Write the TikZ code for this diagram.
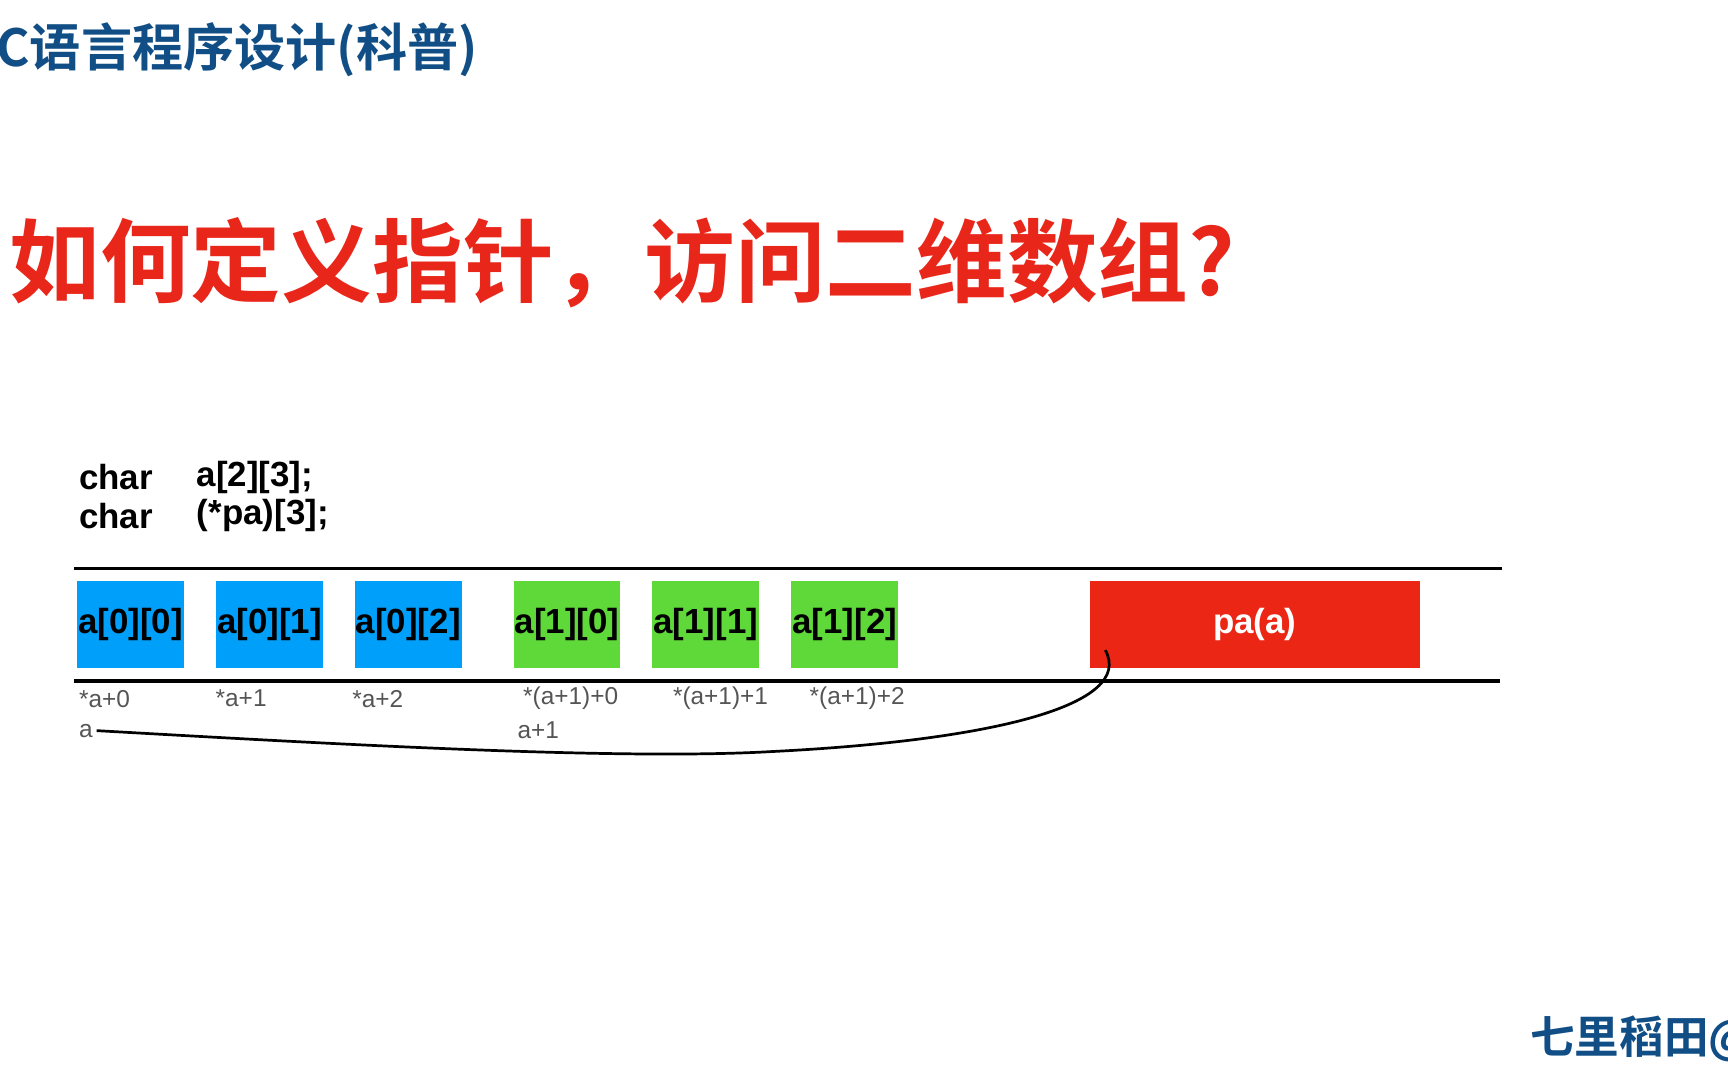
\documentclass[tikz,border=0pt]{standalone}
\usepackage{fontspec}
\setmainfont{Liberation Sans}
\newfontfamily\cjk{Noto Sans CJK SC}[BoldFont={Noto Sans CJK SC Bold}]
\definecolor{tblue}{HTML}{104E85}
\definecolor{tred}{HTML}{E8261A}
\definecolor{cblue}{HTML}{00A0FA}
\definecolor{cgreen}{HTML}{5FD83A}
\definecolor{cred}{HTML}{EB2614}
\definecolor{lgray}{HTML}{555555}
\begin{document}
\begin{tikzpicture}[x=0.01cm,y=-0.01cm,
  cell/.style={minimum width=0.97cm,minimum height=0.79cm,inner sep=0,font=\bfseries\fontsize{9}{11}\selectfont},
  lab/.style={anchor=west,inner sep=0,text=lgray,font=\fontsize{6.3}{7}\selectfont},
  code/.style={anchor=west,inner sep=0,font=\bfseries\fontsize{9}{11}\selectfont}]
\useasboundingbox (0,0) rectangle (1568,980);
\clip (0,0) rectangle (1568,980);
\node[anchor=west,inner sep=0,text=tblue,font=\cjk\bfseries\fontsize{13.2}{15}\selectfont] (t) at (-4,45) {C语言程序设计(科普)};
\node[anchor=west,inner sep=0,text=tred,font=\cjk\bfseries\fontsize{23.4}{28}\selectfont] (h) at (8,238) {如何定义指针，访问二维数组?};
\node[code] (c1) at (71,433) {char};
\node[code] (c2) at (71,468) {char};
\node[code] (d1) at (178,433) {a[2][3];};
\node[code] (d2) at (178,468) {(*pa)[3];};
\coordinate (l1a) at (67,516); \coordinate (l1b) at (1363,516);
\coordinate (l2a) at (67,618); \coordinate (l2b) at (1361,618);
\draw[line width=0.8pt] (l1a) -- (l1b);
\draw[line width=0.8pt] (l2a) -- (l2b);
\node[cell,fill=cblue] (b00) at (118.5,566.5) {a[0][0]};
\node[cell,fill=cblue] (b01) at (244.5,566.5) {a[0][1]};
\node[cell,fill=cblue] (b02) at (370.5,566.5) {a[0][2]};
\node[cell,fill=cgreen] (b10) at (514.5,566.5) {a[1][0]};
\node[cell,fill=cgreen] (b11) at (640.5,566.5) {a[1][1]};
\node[cell,fill=cgreen] (b12) at (766.5,566.5) {a[1][2]};
\node[cell,fill=cred,text=white,minimum width=2.99cm] (pa) at (1138.5,566.5) {pa(a)};
\node[lab] (s0) at (71,634) {*a+0};
\node[lab] (s1) at (195,634) {*a+1};
\node[lab] (s2) at (319,634) {*a+2};
\node[lab] (s3) at (474,634) {*(a+1)+0};
\node[lab] (s4) at (610,634) {*(a+1)+1};
\node[lab] (s5) at (734,634) {*(a+1)+2};
\node[lab] (a0) at (71,663) {a};
\node[lab] (a1) at (469,663) {a+1};
\coordinate (pe) at (1003,590);
\draw[line width=0.7pt] (a0.east) ++(3,0) .. controls (300,675) and (560,690) .. (700,682) .. controls (900,672) and (1030,640) .. (pe);
\node[anchor=west,inner sep=0,text=tblue,font=\cjk\bfseries\fontsize{11.5}{14}\selectfont] (f) at (1388,943) {七里稻田@版};
\end{tikzpicture}
\end{document}
